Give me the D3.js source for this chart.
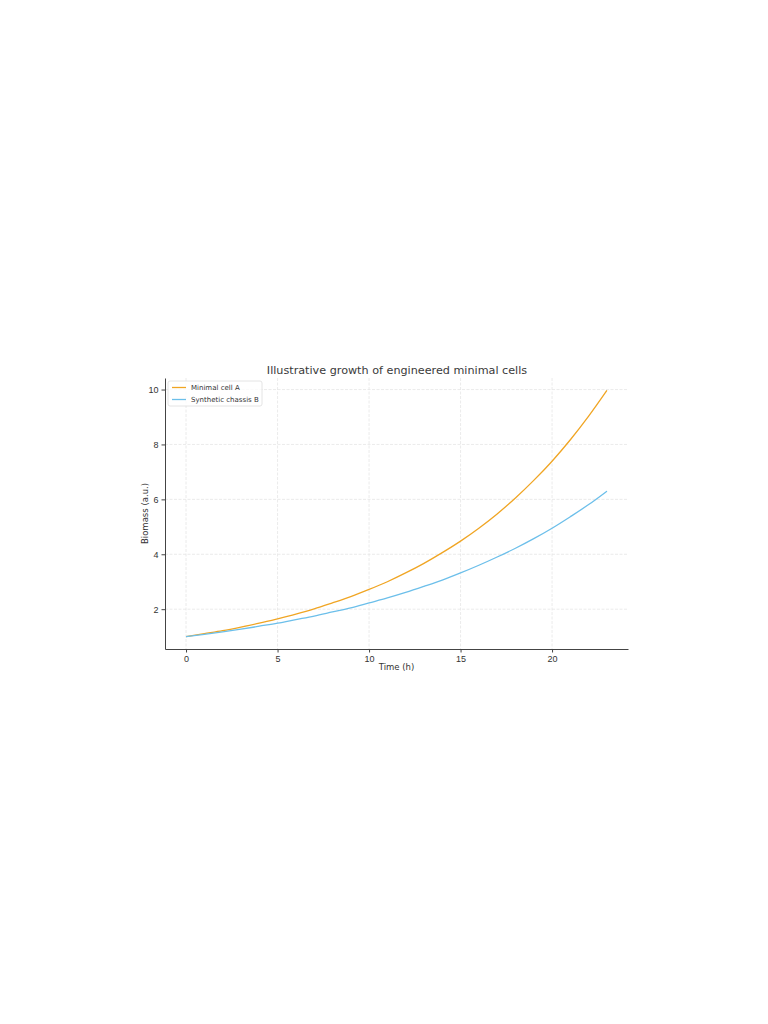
<!DOCTYPE html>
<html lang="en">
<head>
  <meta charset="UTF-8">
  <title>Illustrative growth of engineered minimal cells</title>
  <script src="https://d3js.org/d3.v7.min.js"></script>
  <style>
    body { margin: 0; background: #fff; }
    svg { display: block; font-family: "DejaVu Sans", sans-serif; }
    .grid line { stroke: #e6e6e6; stroke-width: 0.8px; stroke-dasharray: 3,1.5; }
    .axis path, .axis line { stroke: #444; }
    .axis text { fill: #333; font-size: 9px; }
    .series { fill: none; stroke-width: 1.3px; }
  </style>
</head>
<body>
  <svg width="768" height="1024"></svg>

  <script>
    // hours
    const hours = [0, 1, 2, 3, 4, 5, 6, 7, 8, 9, 10, 11, 12, 13, 14, 15, 16, 17, 18, 19, 20, 21, 22, 23];
    // biomass (a.u.)
    const cellA = [1.00, 1.11, 1.22, 1.35, 1.49, 1.65, 1.82, 2.01, 2.23, 2.46, 2.72, 3.00,
                   3.32, 3.67, 4.06, 4.48, 4.95, 5.47, 6.05, 6.69, 7.39, 8.17, 9.03, 9.97];
    const chassisB = [1.00, 1.08, 1.17, 1.27, 1.38, 1.49, 1.62, 1.75, 1.90, 2.05, 2.23, 2.41,
                      2.61, 2.83, 3.06, 3.32, 3.60, 3.90, 4.22, 4.57, 4.95, 5.37, 5.81, 6.30];
    const seriesNames = ["Minimal cell A", "Synthetic chassis B"];
    const seriesColors = ["#f0a523", "#6cbfea"];
    const xTicks = [0, 5, 10, 15, 20];
    const yTicks = [2, 4, 6, 8, 10];

    const svg = d3.select("svg");
    const plotL = 165, plotR = 628, plotT = 378, plotB = 649;

    const x = d3.scaleLinear().domain([-1.15, 24.15]).range([plotL, plotR]);
    const y = d3.scaleLinear().domain([0.55, 10.42]).range([plotB, plotT]);

    // grid
    const grid = svg.append("g").attr("class", "grid");
    grid.selectAll(".vx").data(xTicks).enter().append("line")
        .attr("x1", d => x(d)).attr("x2", d => x(d))
        .attr("y1", plotT).attr("y2", plotB);
    grid.selectAll(".hy").data(yTicks).enter().append("line")
        .attr("x1", plotL).attr("x2", plotR)
        .attr("y1", d => y(d)).attr("y2", d => y(d));

    // axes
    svg.append("g").attr("class", "axis")
       .attr("transform", `translate(0, ${plotB})`)
       .call(d3.axisBottom(x).tickValues(xTicks).tickSize(3.5).tickPadding(3).tickSizeOuter(0));
    svg.append("g").attr("class", "axis")
       .attr("transform", `translate(${plotL}, 0)`)
       .call(d3.axisLeft(y).tickValues(yTicks).tickSize(3.5).tickPadding(3).tickSizeOuter(0));

    // lines
    const line = d3.line().x((d, i) => x(hours[i])).y(d => y(d)).curve(d3.curveMonotoneX);
    [cellA, chassisB].forEach((vals, k) => {
      svg.append("path").attr("class", "series")
         .attr("stroke", seriesColors[k])
         .attr("d", line(vals));
    });

    // title and labels
    svg.append("text").attr("x", (plotL + plotR) / 2 + 0.5).attr("y", 373.5)
       .attr("text-anchor", "middle").attr("fill", "#3a3a3a").attr("font-size", "11.2px")
       .text("Illustrative growth of engineered minimal cells");
    svg.append("text").attr("x", (plotL + plotR) / 2).attr("y", 670)
       .attr("text-anchor", "middle").attr("fill", "#333").attr("font-size", "8.5px")
       .text("Time (h)");
    svg.append("text")
       .attr("transform", `translate(148, ${(plotT + plotB) / 2}) rotate(-90)`)
       .attr("text-anchor", "middle").attr("fill", "#333").attr("font-size", "8.5px")
       .text("Biomass (a.u.)");

    // legend
    const lg = svg.append("g").attr("transform", "translate(168, 381)");
    lg.append("rect").attr("width", 94).attr("height", 25).attr("rx", 2)
      .attr("fill", "#fff").attr("fill-opacity", 0.8).attr("stroke", "#ddd").attr("stroke-width", 0.8);
    seriesNames.forEach((name, k) => {
      const yy = 6.5 + k * 12;
      lg.append("line").attr("x1", 4).attr("x2", 18).attr("y1", yy).attr("y2", yy)
        .attr("stroke", seriesColors[k]).attr("stroke-width", 1.3);
      lg.append("text").attr("x", 23).attr("y", yy).attr("dy", "0.35em")
        .attr("font-size", "7px").attr("fill", "#333").text(name);
    });
  </script>
</body>
</html>
